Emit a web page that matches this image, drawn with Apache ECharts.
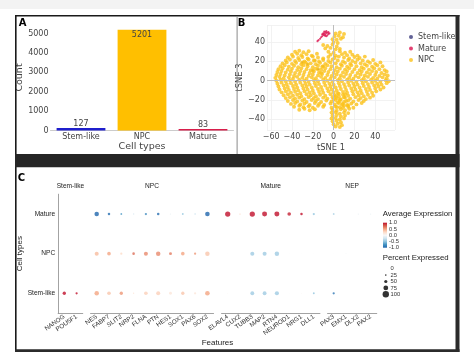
<!DOCTYPE html>
<html>
<head>
<meta charset="utf-8">
<script src="https://cdn.jsdelivr.net/npm/echarts@6/dist/echarts.min.js"></script>
<style>
html, body { margin: 0; padding: 0; background: #fff; }
#chart { width: 474px; height: 352px; }
</style>
</head>
<body>
<div id="chart"></div>
<script>
// A: number of cells per type
const cellTypes = ['Stem-like', 'NPC', 'Mature'];
const cellCounts = [127, 5201, 83];

// B: tSNE embedding (tSNE 1, tSNE 3)
const stemPoints = [[-20, 10.5], [-15, 12], [-25, 17], [-10, 15], [-30, 19], [-18, 21]];
const maturePoints = [
  [-8, 48], [-7, 49.5], [-9, 47], [-6, 47], [-10, 49], [-8, 50.5], [-5, 48.5], [-11, 46],
  [-12, 45], [-13, 43.5], [-14.5, 42], [-15.5, 41], [-7, 46], [-9, 51], [-6, 50], [-10, 47.5],
  [-4, 49], [-8, 46.5], [-7, 51.5], [-11, 48], [-5, 50.5], [-9, 49]
];
const npcPoints = [
  [2, 49], [6, 50], [10, 48.5], [1, 46], [5, 46.5], [9, 45], [-1, 43], [3, 42.5], [7, 43.5], [0, 40], [4, 39],
  [-10, 37], [-6, 36], [-1, 37.5], [3, 35.5], [-8, 33.5], [-3, 34], [2, 32.5], [6, 33],
  [-37, 30], [-33, 31], [-29, 29.5], [-24, 30.5], [-5, 30], [0, 29], [6, 30.5], [11, 29], [16, 30],
  [-40, 27], [-35, 28], [-31, 26.5], [-26, 27.5], [-21, 26], [-16, 28], [-3, 27], [2, 26], [8, 27.5], [13, 26.5], [18, 27], [23, 26],
  [-44, 24], [-39, 25], [-34, 23.5], [-30, 24.5], [-25, 23], [-20, 25], [-15, 24], [-10, 23], [-5, 24.5], [1, 23.5], [5, 25], [10, 24], [15, 23], [20, 24.5], [25, 23.5], [30, 25],
  [-46, 21], [-42, 22], [-37, 20.5], [-33, 21.5], [-28, 20], [-24, 22], [-19, 21], [-14, 20], [-10, 21.5], [-5, 20.5], [-1, 22], [4, 21], [9, 20], [14, 21.5], [18, 20.5], [23, 22], [28, 21], [33, 20], [38, 21.5],
  [-49, 18], [-45, 19], [-40, 17.5], [-36, 18.5], [-31, 17], [-27, 19], [-22, 18], [-17, 17], [-13, 18.5], [-8, 17.5], [-3, 19], [2, 18], [7, 17], [11, 18.5], [16, 17.5], [21, 19], [26, 18], [30, 17], [35, 18.5], [40, 17.5], [45, 19],
  [-51, 15], [-47, 16], [-43, 14.5], [-38, 15.5], [-34, 14], [-29, 16], [-25, 15], [-20, 14], [-15, 15.5], [-11, 14.5], [-6, 16], [-2, 15], [3, 14], [8, 15.5], [13, 14.5], [17, 16], [22, 15], [27, 14], [32, 15.5], [37, 14.5], [42, 16], [47, 15],
  [-53, 12], [-49, 13], [-44, 11.5], [-40, 12.5], [-35, 11], [-31, 13], [-26, 12], [-22, 11], [-17, 12.5], [-12, 11.5], [-8, 13], [-3, 12], [1, 11], [6, 12.5], [11, 11.5], [15, 13], [20, 12], [25, 11], [29, 12.5], [34, 11.5], [39, 13], [44, 12], [49, 11],
  [-54, 9], [-50, 10], [-46, 8.5], [-41, 9.5], [-37, 8], [-32, 10], [-28, 9], [-23, 8], [-19, 9.5], [-14, 8.5], [-9, 10], [-5, 9], [0, 8], [4, 9.5], [9, 8.5], [13, 10], [18, 9], [23, 8], [27, 9.5], [32, 8.5], [37, 10], [41, 9], [46, 8], [51, 9.5],
  [-55, 6], [-51, 7], [-47, 5.5], [-42, 6.5], [-38, 5], [-33, 7], [-29, 6], [-24, 5], [-20, 6.5], [-15, 5.5], [-11, 7], [-6, 6], [-2, 5], [3, 6.5], [7, 5.5], [12, 7], [16, 6], [21, 5], [26, 6.5], [30, 5.5], [35, 7], [40, 6], [44, 5], [49, 6.5], [52, 5.5],
  [-56, 3], [-52, 4], [-48, 2.5], [-43, 3.5], [-39, 2], [-35, 4], [-30, 3], [-26, 2], [-21, 3.5], [-17, 2.5], [-12, 4], [-8, 3], [-3, 2], [1, 3.5], [6, 2.5], [10, 4], [15, 3], [19, 2], [24, 3.5], [29, 2.5], [33, 4], [38, 3], [42, 2], [47, 3.5], [51, 2.5],
  [-55, 0], [-51, 1], [-46, -0.5], [-42, 0.5], [-37, -1], [-33, 1], [-28, 0], [-24, -1], [-19, 0.5], [-15, -0.5], [-10, 1], [-6, 0], [-1, -1], [4, 0.5], [8, -0.5], [13, 1], [17, 0], [22, -1], [27, 0.5], [31, -0.5], [36, 1], [40, 0], [45, -1], [50, 0.5], [53, -0.5],
  [-54, -3], [-50, -2], [-45, -3.5], [-41, -2.5], [-36, -4], [-32, -2], [-27, -3], [-23, -4], [-18, -2.5], [-14, -3.5], [-9, -2], [-4, -3], [0, -4], [5, -2.5], [10, -3.5], [14, -2], [19, -3], [23, -4], [28, -2.5], [33, -3.5], [37, -2], [42, -3], [46, -4], [51, -2.5],
  [-53, -6], [-48, -5], [-44, -6.5], [-39, -5.5], [-35, -7], [-30, -5], [-26, -6], [-21, -7], [-17, -5.5], [-12, -6.5], [-8, -5], [-3, -6], [2, -7], [6, -5.5], [11, -6.5], [15, -5], [20, -6], [25, -7], [29, -5.5], [34, -6.5], [39, -5], [43, -6], [48, -7],
  [-52, -9], [-47, -8], [-43, -9.5], [-38, -8.5], [-34, -10], [-29, -8], [-25, -9], [-20, -10], [-15, -8.5], [-11, -9.5], [-6, -8], [-2, -9], [3, -10], [7, -8.5], [12, -9.5], [17, -8], [21, -9], [26, -10], [31, -8.5], [35, -9.5], [40, -8], [45, -9],
  [-50, -12], [-46, -11], [-41, -12.5], [-37, -11.5], [-32, -13], [-28, -11], [-23, -12], [-19, -13], [-14, -11.5], [-10, -12.5], [-5, -11], [0, -12], [4, -13], [9, -11.5], [13, -12.5], [18, -11], [23, -12], [27, -13], [32, -11.5], [37, -12.5], [41, -11],
  [-48, -15], [-44, -14], [-39, -15.5], [-35, -14.5], [-31, -16], [-26, -14], [-22, -15], [-17, -16], [-13, -14.5], [-8, -15.5], [-3, -14], [1, -15], [5, -16], [9, -14.5], [14, -15.5], [19, -14], [24, -15], [29, -16], [33, -14.5], [38, -15.5],
  [-46, -18], [-42, -17], [-37, -18.5], [-33, -17.5], [-28, -19], [-24, -17], [-19, -18], [-15, -19], [-10, -17.5], [-6, -18.5], [-1, -17], [3, -18], [7, -19], [11, -17.5], [16, -18.5], [21, -17], [26, -18], [31, -19], [35, -17.5],
  [-44, -21], [-39, -20], [-35, -21.5], [-30, -20.5], [-26, -22], [-21, -20], [-17, -21], [-12, -22], [-7, -20.5], [-2, -21.5], [2, -20], [6, -21], [10, -22], [14, -20.5], [19, -21.5], [24, -20], [29, -21],
  [-41, -24], [-37, -23], [-32, -24.5], [-28, -23.5], [-23, -25], [-18, -23], [-14, -24], [-9, -25], [-3, -23.5], [1, -24.5], [5, -23], [9, -24], [13, -25], [17, -23.5], [22, -24.5], [27, -23],
  [-38, -27], [-33, -26], [-29, -27.5], [-24, -26.5], [-20, -28], [-15, -26], [-10, -27], [-2, -28], [2, -26.5], [6, -27.5], [10, -26], [14, -27], [19, -28],
  [-33, -30], [-28, -29], [-23, -30.5], [-18, -29.5], [-1, -30], [3, -31], [7, -29.5], [11, -30.5], [15, -29],
  [-2, -33], [2, -32.5], [6, -34], [10, -33], [14, -33.5], [-1, -36], [3, -35.5], [7, -37], [11, -36],
  [-2, -39], [2, -38.5], [6, -40], [10, -39], [-1, -42], [3, -41.5], [7, -43], [0, -45], [4, -44.5], [8, -46], [2, -47.5], [6, -48],
  [2, -16], [6, -19.5], [10, -17], [4, -22.5], [8, -24.5], [12, -21], [14, -25.5], [0, -19], [3, -27.5], [9, -28], [5, -13.5], [11, -14],
  [-20, 10.5], [-15, 12], [-25, 17], [-10, 15], [-30, 19], [-18, 21], [-12, 8]
];

// C: dot plot of marker genes
const groupNames = ['Stem-like', 'NPC', 'Mature', 'NEP'];
const featStem = ['NANOG', 'POU5F1'];
const featNPC = ['NES', 'FABP7', 'SLIT2', 'NRP2', 'FLNA', 'PTN', 'HES1', 'SOX1', 'PAX6', 'SOX2'];
const featMature = ['ELAVL4', 'CUX2', 'TUBB3', 'MAP2', 'RTN4', 'NEUROD1', 'NRG1', 'DLL1'];
const featNEP = ['PAX3', 'EMX1', 'DLX2', 'PAX2'];
const dotRows = ['Stem-like', 'NPC', 'Mature'];
// average expression, one value per feature in the order above
const avgStem   = [1.0, 1.0, 0.5, 0.35, 0.55, 0.15, 0.3, 0.3, 0.15, 0.35, 0.15, 0.5, 0.1, 0.0, -0.45, -0.45, -0.45, 0.0, 0.05, -0.5, -0.9, 0.0, 0.0, 0.0];
const avgNPC    = [0.0, 0.0, 0.4, 0.5, 0.25, 0.7, 0.6, 0.6, 0.65, 0.5, 0.55, 0.35, 0.0, 0.0, -0.45, -0.45, -0.45, 0.0, 0.0, 0.0, 0.0, -0.1, 0.0, 0.0];
const avgMature = [0.0, 0.0, -1.0, -0.95, -0.7, -0.2, -0.8, -0.95, -0.1, -0.5, -0.3, -1.0, 1.0, 0.3, 1.0, 1.0, 1.0, 0.95, 1.0, -0.5, -0.4, 0.0, -0.1, -0.1];
// percent of cells expressing
const pctStem   = [52, 35, 70, 57, 52, 22, 57, 63, 46, 52, 35, 72, 10, 5, 60, 60, 65, 5, 12, 29, 35, 3, 3, 3];
const pctNPC    = [2, 2, 63, 57, 35, 40, 63, 70, 46, 57, 35, 70, 8, 5, 63, 63, 70, 8, 8, 8, 3, 10, 3, 3];
const pctMature = [2, 2, 70, 40, 29, 22, 35, 40, 20, 28, 25, 72, 82, 20, 82, 78, 78, 57, 40, 35, 28, 3, 20, 20];
const sizeLevels = [0, 25, 50, 75, 100];

const fontA = 'DejaVu Sans';
const fontC = 'Liberation Sans';
const rdbu = ['#2166AC', '#4393C3', '#92C5DE', '#D1E5F0', '#F7F7F7', '#FDDBC7', '#F4A582', '#D6604D', '#C0102C'];
const typeColors = ['#1F1FCC', '#FFBF00', '#D81E4B'];

const groupFeatures = [featStem, featNPC, featMature, featNEP];
const avgByRow = [avgStem, avgNPC, avgMature];
const pctByRow = [pctStem, pctNPC, pctMature];

const band = 12.3;
const facetLeft = [58.15, 90.55, 221.55, 327.55];
const dotTop = 194.2;
const dotHeight = 118.9;

const minus = (v) => (v < 0 ? '\u2212' + (-v) : String(v));

const grids = [
  { left: 50.5, top: 24.5, width: 183, height: 106 },
  { left: 267, top: 25, width: 128, height: 105 }
];
const xAxes = [
  {
    gridIndex: 0, type: 'category', data: cellTypes,
    axisTick: { show: false }, axisLine: { lineStyle: { color: '#CCCCCC' } },
    axisLabel: { color: '#444', fontSize: 8, margin: 2, fontFamily: fontA },
    name: 'Cell types', nameLocation: 'middle', nameGap: 11.5,
    nameTextStyle: { fontSize: 9.5, color: '#444', fontFamily: fontA }
  },
  {
    gridIndex: 1, type: 'value', min: -64, max: 59,
    axisLine: { show: false }, axisTick: { show: false },
    axisLabel: { color: '#444', fontSize: 8, margin: 3, fontFamily: fontA, showMinLabel: false, showMaxLabel: false, formatter: minus },
    splitLine: { lineStyle: { color: '#EFEFEF', width: 0.8 } },
    name: 'tSNE 1', nameLocation: 'middle', nameGap: 14,
    nameTextStyle: { fontSize: 8.3, color: '#444', fontFamily: fontA }
  }
];
const yAxes = [
  {
    gridIndex: 0, type: 'value', min: 0, max: 5475,
    axisLine: { show: false }, axisTick: { show: false }, splitLine: { show: false },
    axisLabel: { color: '#444', fontSize: 8, margin: 2, fontFamily: fontA, showMaxLabel: false, formatter: (v) => String(v) },
    name: 'Count', nameLocation: 'middle', nameGap: 22.5,
    nameTextStyle: { fontSize: 9.5, color: '#444', fontFamily: fontA }
  },
  {
    gridIndex: 1, type: 'value', min: -51, max: 57.7,
    axisLine: { show: false }, axisTick: { show: false },
    axisLabel: { color: '#444', fontSize: 8, margin: 2, fontFamily: fontA, showMinLabel: false, showMaxLabel: false, formatter: minus },
    splitLine: { lineStyle: { color: '#EFEFEF', width: 0.8 } },
    name: 'tSNE 3', nameLocation: 'middle', nameGap: 20,
    nameTextStyle: { fontSize: 8.3, color: '#444', fontFamily: fontA }
  }
];

const series = [
  {
    type: 'bar', xAxisIndex: 0, yAxisIndex: 0, barWidth: '80%',
    data: cellCounts.map((v, i) => ({
      value: v,
      itemStyle: { color: typeColors[i] },
      label: { position: v > 1000 ? 'insideTop' : 'top', distance: v > 1000 ? 1 : 0 }
    })),
    label: { show: true, color: '#444', fontSize: 8, fontFamily: fontA }
  },
  {
    type: 'scatter', name: 'Stem-like', xAxisIndex: 1, yAxisIndex: 1, data: stemPoints,
    symbolSize: 2, itemStyle: { color: '#3A3A7A' },
    markLine: {
      silent: true, symbol: 'none', label: { show: false },
      lineStyle: { color: '#BDBDBD', type: 'solid', width: 1 },
      data: [{ xAxis: 0 }, { yAxis: 0 }]
    }
  },
  { type: 'scatter', name: 'Mature', xAxisIndex: 1, yAxisIndex: 1, data: maturePoints, symbolSize: 2.1, z: 3, itemStyle: { color: '#DC1450' } },
  { type: 'scatter', name: 'NPC', xAxisIndex: 1, yAxisIndex: 1, data: npcPoints, symbolSize: 3.9, z: 3, itemStyle: { color: '#FBC21A', opacity: 0.8 } }
];

const dotSeriesIdx = [];
let offset = 0;
groupFeatures.forEach((feats, g) => {
  grids.push({ left: facetLeft[g], top: dotTop, width: feats.length * band, height: dotHeight });
  const ax = grids.length - 1;
  xAxes.push({
    gridIndex: ax, type: 'category', data: feats,
    axisLine: { lineStyle: { color: '#8C8C8C', width: 0.8 } },
    axisTick: { alignWithLabel: true, length: 2, lineStyle: { color: '#8C8C8C', width: 0.8 } },
    axisLabel: { interval: 0, rotate: 35, fontSize: 6.3, color: '#333', margin: 3, fontFamily: fontC }
  });
  yAxes.push(g === 0 ? {
    gridIndex: ax, type: 'category', data: dotRows,
    axisLine: { lineStyle: { color: '#8C8C8C', width: 0.8 } },
    axisTick: { alignWithLabel: true, length: 2, lineStyle: { color: '#8C8C8C', width: 0.8 } },
    axisLabel: { fontSize: 6.6, color: '#222', margin: 3, fontFamily: fontC },
    name: 'Cell types', nameLocation: 'middle', nameGap: 31.5,
    nameTextStyle: { fontSize: 8, color: '#222', fontFamily: fontC }
  } : { gridIndex: ax, type: 'category', data: dotRows, show: false });
  const data = [];
  feats.forEach((f, i) => {
    dotRows.forEach((r, j) => {
      data.push([i, j, avgByRow[j][offset + i], pctByRow[j][offset + i]]);
    });
  });
  dotSeriesIdx.push(series.length);
  series.push({ type: 'scatter', xAxisIndex: ax, yAxisIndex: ax, data, symbol: 'circle', silent: true });
  offset += feats.length;
});

// colour bar
grids.push({ left: 383, top: 222.7, width: 4, height: 25 });
xAxes.push({ gridIndex: grids.length - 1, type: 'category', data: ['c'], show: false });
yAxes.push({
  gridIndex: grids.length - 1, type: 'value', min: -1, max: 1, interval: 0.5, position: 'right',
  axisLine: { show: false }, axisTick: { show: false }, splitLine: { show: false },
  axisLabel: { fontSize: 5.8, color: '#333', margin: 2, fontFamily: fontC, formatter: (v) => v.toFixed(1) }
});
const cbIdx = grids.length - 1;
series.push({
  type: 'bar', xAxisIndex: cbIdx, yAxisIndex: cbIdx, stack: 'cb', barWidth: '100%', silent: true, data: [1],
  itemStyle: { color: new echarts.graphic.LinearGradient(0, 0, 0, 1, [
    { offset: 0, color: rdbu[8] }, { offset: 0.25, color: rdbu[7] }, { offset: 0.5, color: rdbu[6] },
    { offset: 0.75, color: rdbu[5] }, { offset: 1, color: rdbu[4] }]) }
});
series.push({
  type: 'bar', xAxisIndex: cbIdx, yAxisIndex: cbIdx, stack: 'cb', barWidth: '100%', silent: true, data: [-1],
  itemStyle: { color: new echarts.graphic.LinearGradient(0, 0, 0, 1, [
    { offset: 0, color: rdbu[4] }, { offset: 0.25, color: rdbu[3] }, { offset: 0.5, color: rdbu[2] },
    { offset: 0.75, color: rdbu[1] }, { offset: 1, color: rdbu[0] }]) }
});

// size legend
grids.push({ left: 383, top: 265.5, width: 5.6, height: 32 });
const szIdx = grids.length - 1;
xAxes.push({ gridIndex: szIdx, type: 'category', data: ['s'], show: false });
yAxes.push({
  gridIndex: szIdx, type: 'category', data: sizeLevels.map(String), inverse: true, position: 'right',
  axisLine: { show: false }, axisTick: { show: false },
  axisLabel: { interval: 0, fontSize: 5.8, color: '#333', margin: 2, fontFamily: fontC }
});
const sizeLegendIdx = series.length;
series.push({
  type: 'scatter', xAxisIndex: szIdx, yAxisIndex: szIdx, silent: true,
  data: sizeLevels.map((p, i) => [0, i, 0, p]), itemStyle: { color: '#000' }
});

const txt = (text, x, y, size, opts = {}) => ({
  type: 'text', x, y, silent: true, z: 10,
  style: Object.assign({
    text, fill: '#222', fontSize: size, fontFamily: fontC,
    align: 'center', verticalAlign: 'middle', textAlign: 'center', textVerticalAlign: 'middle'
  }, opts)
});
const box = (x, y, w, h, fill) => ({ type: 'rect', silent: true, z: 9, shape: { x, y, width: w, height: h }, style: { fill } });

const graphic = [
  box(0, 0, 474, 9, '#F3F3F3'),
  box(15, 15, 1.6, 337, '#1A1A1A'),
  box(15, 15, 444.5, 1.5, '#1A1A1A'),
  box(455.5, 15, 4, 337, '#2B2B2B'),
  box(15, 349.3, 444.5, 2.7, '#2B2B2B'),
  box(15, 154, 444.5, 13.3, '#262626'),
  box(236.6, 16, 1, 138, '#8A8A8A'),
  txt('A', 22.5, 23.5, 10, { fontWeight: 'bold', fill: '#000', fontFamily: fontA }),
  txt('B', 241.5, 23.7, 10, { fontWeight: 'bold', fill: '#000', fontFamily: fontA }),
  txt('C', 21.5, 178.5, 10, { fontWeight: 'bold', fill: '#000', fontFamily: fontA }),
  txt('Features', 217.5, 342.7, 8),
  txt('Average Expression', 382.7, 213.7, 7.8, { align: 'left', textAlign: 'left' }),
  txt('Percent Expressed', 382.7, 258.3, 7.8, { align: 'left', textAlign: 'left' })
];
groupNames.forEach((n, g) => {
  const cx = facetLeft[g] + groupFeatures[g].length * band / 2;
  graphic.push(txt(n, cx, 185.7, 6.6));
});

const chart = echarts.init(document.getElementById('chart'));
chart.setOption({
  animation: false,
  backgroundColor: '#fff',
  textStyle: { fontFamily: fontA },
  grid: grids,
  xAxis: xAxes,
  yAxis: yAxes,
  legend: {
    data: ['Stem-like', 'Mature', 'NPC'], orient: 'vertical', left: 404, top: 27,
    itemWidth: 4, itemHeight: 4, itemGap: 1.5, icon: 'circle',
    textStyle: { fontSize: 8, color: '#444', fontFamily: fontA, lineHeight: 10 }
  },
  visualMap: [
    { type: 'continuous', show: false, seriesIndex: dotSeriesIdx, dimension: 2, min: -1, max: 1, inRange: { color: rdbu } },
    { type: 'continuous', show: false, seriesIndex: dotSeriesIdx.concat([sizeLegendIdx]), dimension: 3, min: 0, max: 100, inRange: { symbolSize: [0, 6.4] } }
  ],
  series,
  graphic
});
</script>
</body>
</html>
